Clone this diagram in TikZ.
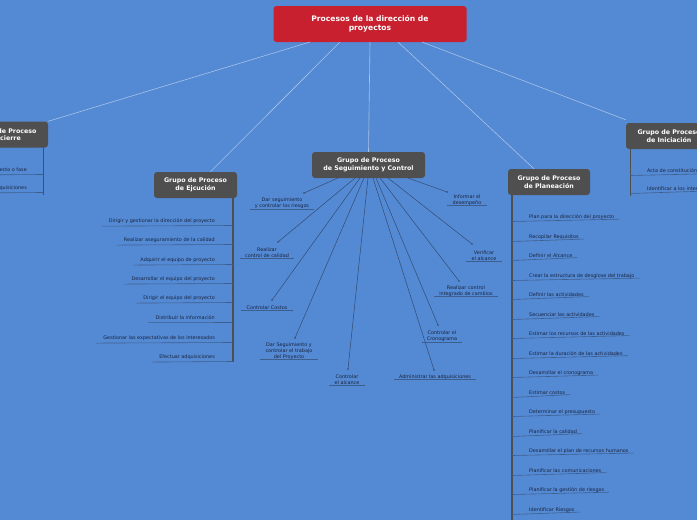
\documentclass[tikz,border=0pt]{standalone}
\usepackage{fontspec}
\setmainfont{DejaVu Sans}
\definecolor{bg}{HTML}{548AD4}
\definecolor{grp}{HTML}{4F4F4F}
\definecolor{ttl}{HTML}{C8202F}
\definecolor{lnk}{HTML}{A9C2E8}
\definecolor{itx}{HTML}{1A2440}
\definecolor{uln}{HTML}{3E5E8E}
\begin{document}
\begin{tikzpicture}[x=1pt,y=-1pt,
  grpbox/.style={fill=grp,rounded corners=3pt,text=white,font=\fontsize{6.3}{7.6}\selectfont\bfseries,align=center,inner sep=3pt},
  ttlbox/.style={fill=ttl,rounded corners=3pt,text=white,font=\fontsize{7.6}{9}\selectfont\bfseries,align=center,minimum width=193pt,minimum height=36pt},
  itm/.style={text=itx,font=\fontsize{4.9}{5.9}\selectfont,align=center,inner sep=1pt},
  lnkline/.style={draw=lnk,line width=0.6pt},
  bar/.style={draw=grp,line width=1.2pt},
  ul/.style={draw=uln,line width=0.6pt},
  conn/.style={draw=uln!80!black,line width=0.5pt}]
\useasboundingbox[fill=bg] (0,0) rectangle (697,520);
\node[ttlbox] (T) at (370,24) {Procesos de la dirección de\\proyectos};
\node[grpbox,minimum width=86pt,minimum height=26pt] (C) at (5,134.5) {Grupo de Proceso\\de cierre};
\node[grpbox,minimum width=83pt,minimum height=26pt] (E) at (195.5,185) {Grupo de Proceso\\de Ejcución};
\node[grpbox,minimum width=113pt,minimum height=26pt] (S) at (368.5,165) {Grupo de Proceso\\de Seguimiento y Control};
\node[grpbox,minimum width=82pt,minimum height=26pt] (P) at (549,182) {Grupo de Proceso\\de Planeación};
\node[grpbox,minimum width=86pt,minimum height=26pt] (I) at (669,136) {Grupo de Proceso\\de Iniciación};
\coordinate (t1) at (310,42); \coordinate (t2) at (340,42); \coordinate (t3) at (370,42);
\coordinate (t4) at (398,42); \coordinate (t5) at (422,42);
\draw[lnkline] (t1) -- (C.north east);
\draw[lnkline] (t2) -- ([xshift=15pt]E.north);
\draw[lnkline] (t3) -- (S.north);
\draw[lnkline] (t4) -- ([xshift=-15pt]P.north);
\draw[lnkline] (t5) -- ([yshift=3pt]I.north west);
% cierre
\draw[bar,line width=0.8pt] (43,147) -- (43,195);
\foreach \t/\y [count=\i] in {Cerrar el proyecto o fase/170,Cerrar las adquisiciones/188}{
  \node[itm,anchor=east] (c\i) at (28,\y) {\t};
  \draw[ul] (c\i.south west) ++(-6,1.5) -- (43,\y+4.5);}
% ejecucion
\draw[bar] (233,198) -- (233,362);
\foreach \t/\y [count=\i] in {Dirigir y gestionar la dirección del proyecto/221,Realizar aseguramiento de la calidad/240,Adquirir el equipo de proyecto/260,Desarrollar el equipo del proyecto/279,Dirigir el equipo del proyecto/298,Distribuir la información/318,Gestionar las expectativas de los interesados/338,Efectuar adquisiciones/357}{
  \node[itm,anchor=east] (e\i) at (216,\y) {\t};
  \draw[ul] (e\i.south west) ++(-6,1.5) -- (233,\y+4.5);}
% planeacion
\draw[bar] (512,195) -- (512,520);
\foreach \t/\y [count=\i] in {Plan para la dirección del proyecto/217,Recopilar Requisitos/237,Definir el Alcance/256,Crear la estructura de desglose del trabajo/276,Definir las actividades/295,Secuenciar las actividades/315,Estimar los recursos de las actividades/334,Estimar la duración de las actividades/354,Desarrollar el cronograma/373,Estimar costos/393,Determinar el presupuesto/412,Planificar la calidad/432,Desarrollar el plan de recursos humanos/451,Planificar las comunicaciones/471,Planificar la gestión de riesgos/490,Identificar Riesgos/510}{
  \node[itm,anchor=west] (p\i) at (528,\y) {\t};
  \draw[ul] (512,\y+4.5) -- ([xshift=4pt,yshift=1.5pt]p\i.south east);}
% iniciacion
\draw[bar,line width=0.8pt] (630,149) -- (630,196);
\foreach \t/\y [count=\i] in {Acta de constitución del proyecto/171,Identificar a los interesados/189}{
  \node[itm,anchor=west] (n\i) at (646,\y) {\t};
  \draw[ul] (630,\y+4.5) -- ([xshift=4pt,yshift=1.5pt]n\i.south east);}
% seguimiento children
\node[itm] (s1) at (282,203.5) {Dar seguimiento\\y controlar los riesgos};
\node[itm] (s2) at (267,253) {Realizar\\control de calidad};
\node[itm] (s3) at (267,308) {Controlar Costos};
\node[itm] (s4) at (289,351) {Dar Seguimiento y\\controlar el trabajo\\del Proyecto};
\node[itm] (s5) at (347,380) {Controlar\\el alcance};
\node[itm] (s6) at (435,377) {Administrar las adquisiciones};
\node[itm] (s7) at (442,336.5) {Controlar el\\Cronograma};
\node[itm] (s8) at (466,291) {Realizar control\\integrado de cambios};
\node[itm] (s9) at (484,256) {Verificar\\el alcance};
\node[itm] (s10) at (467,200) {Informar el\\desempeño};
\foreach \i in {1,...,10}{\draw[ul] ([xshift=-4pt,yshift=1pt]s\i.south west) -- ([xshift=4pt,yshift=1pt]s\i.south east);}
\coordinate (e1) at (304,193); \coordinate (e2) at (278,242); \coordinate (e3) at (272,300);
\coordinate (e4) at (295,338); \coordinate (e5) at (348,369); \coordinate (e6) at (434,370);
\coordinate (e7) at (438,325); \coordinate (e8) at (459,281); \coordinate (e9) at (472,244);
\coordinate (e10) at (447,192);
\foreach \i/\x in {1/338,2/355,3/360,4/364,5/368,6/373,7/376,8/380,9/388,10/408}{
  \draw[conn] (\x,178) -- (e\i);
  \fill[uln!80!black] (e\i) circle (0.9pt);}
\end{tikzpicture}
\end{document}
